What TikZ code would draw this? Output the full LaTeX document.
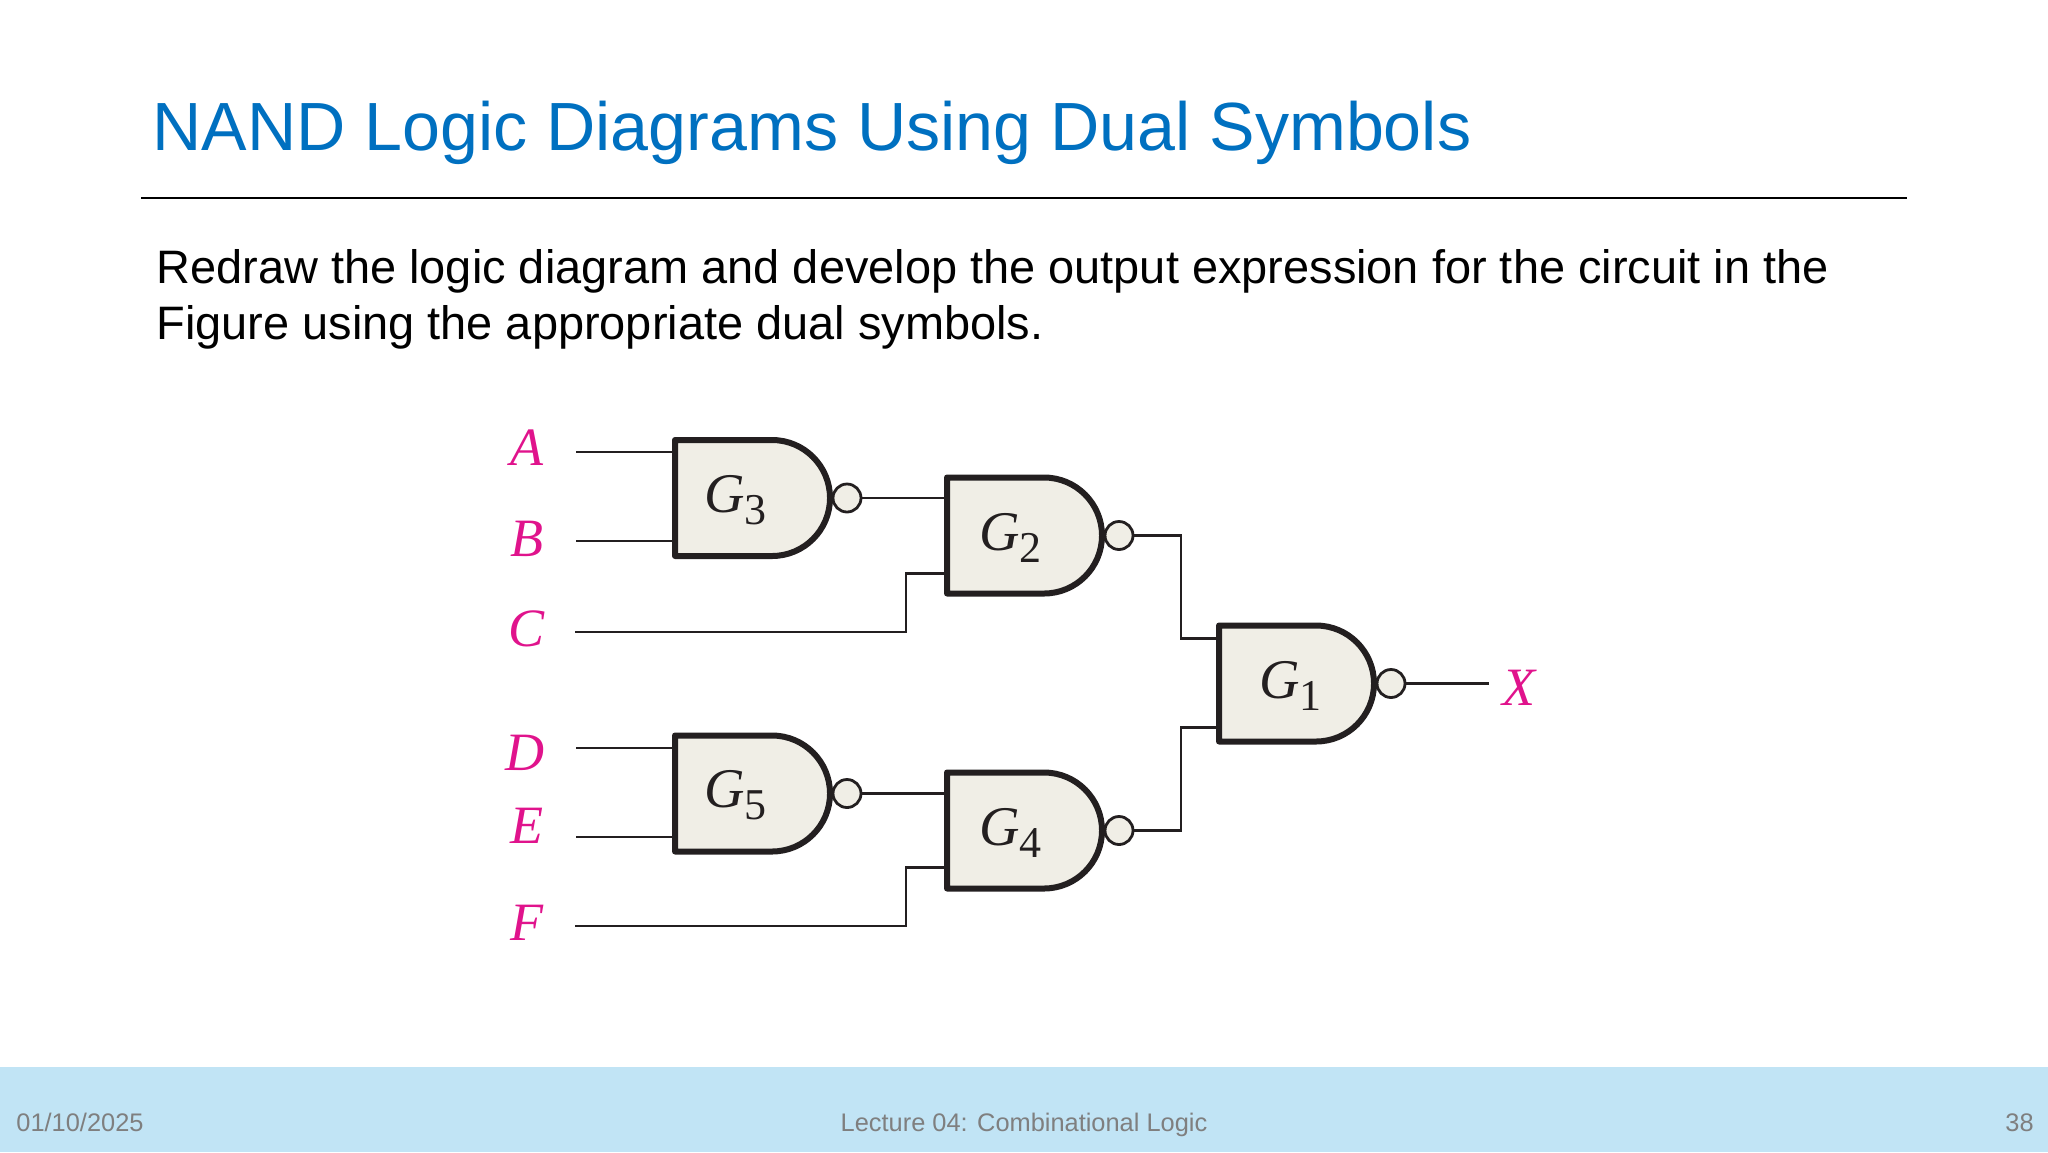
\documentclass[tikz,border=0pt]{standalone}
\usepackage{fontspec}
\setmainfont{Liberation Sans}
\newfontfamily\gateserif{Liberation Serif}
\usetikzlibrary{positioning}

\definecolor{titleblue}{HTML}{0070C0}
\definecolor{footband}{HTML}{C1E4F5}
\definecolor{footgray}{HTML}{7F7F7F}
\definecolor{inkpink}{HTML}{E0138C}
\definecolor{gatefill}{HTML}{F0EEE6}
\definecolor{gateink}{HTML}{231F20}

\tikzset{
    gatebox/.style={minimum width=77.5pt, minimum height=58pt, inner sep=0pt, outer sep=0pt},
    gateline/.style={draw=gateink, fill=gatefill, line width=3pt, line join=round},
    gatelabel/.style={inner sep=0pt, text=gateink, font=\gateserif\fontsize{28}{28}\selectfont},
    bubble/.style={circle, draw=gateink, fill=gatefill, line width=1.4pt, minimum size=14pt, inner sep=0pt},
    wire/.style={draw=gateink, line width=1.4pt},
    inlabel/.style={inner sep=0pt, text=inkpink, font=\gateserif\itshape\fontsize{27}{27}\selectfont},
    footer/.style={inner sep=0pt, text=footgray, font=\fontsize{12.7}{13}\selectfont}
}

\newcommand{\gatename}[1]{\textit{G}\raisebox{-6pt}{\fontsize{22}{22}\selectfont #1}}

\newcommand{\nandgate}[5]{
    \node[gatebox] (#1) at (#2,#3) {};
    \draw[gateline] (#1.north west) -- ++(97,0)
        arc[start angle=90, end angle=-90, radius=29pt] -- (#1.south west) -- cycle;
    \node[gatelabel] (#1name) at ([xshift=#5,yshift=-1pt]#1.center) {\gatename{#4}};
    \node[bubble] (#1out) at ([xshift=8.5pt]#1.east) {};
}

\begin{document}
\begin{tikzpicture}[x=0.5pt, y=-0.5pt]

        \useasboundingbox (0,0) rectangle (2048,1152);

        \fill[footband] (0,1067) rectangle (2048,1152);

        \node[anchor=base west, inner sep=0pt, text=titleblue, font=\fontsize{34.1}{34}\selectfont] (title) at (152,150)
        {NAND Logic Diagrams Using Dual Symbols};

        \coordinate (ruleL) at (141,198);
        \coordinate (ruleR) at (1907,198);
        \draw[line width=1pt, black] (ruleL) -- (ruleR);

        \node[anchor=base west, inner sep=0pt, font=\fontsize{23.47}{28}\selectfont] (lineone) at (156,283)
        {Redraw the logic diagram and develop the output expression for the circuit in the};
        \node[anchor=base west, inner sep=0pt, font=\fontsize{23.47}{28}\selectfont] (linetwo) at (156,339)
        {Figure using the appropriate dual symbols.};

        % #######################################

        \nandgate{G3}{752.5}{498}{3}{-8.5pt}
        \nandgate{G2}{1024.5}{535.5}{2}{-7pt}
        \nandgate{G1}{1296.5}{683.5}{1}{-3pt}
        \nandgate{G5}{752.5}{793.5}{5}{-8.5pt}
        \nandgate{G4}{1024.5}{830.5}{4}{-7pt}

        \node[inlabel] (A) at (527,448) {A};
        \node[inlabel] (B) at (527,539) {B};
        \node[inlabel] (C) at (526,629) {C};
        \node[inlabel] (D) at (525,753) {D};
        \node[inlabel] (E) at (527,826) {E};
        \node[inlabel] (F) at (527,923) {F};
        \node[inlabel] (X) at (1519,688) {X};

        % #######################################

        \coordinate (Astart) at (576,452);
        \coordinate (Bstart) at (576,541);
        \coordinate (Cstart) at (575,632);
        \coordinate (Dstart) at (576,748);
        \coordinate (Estart) at (576,837);
        \coordinate (Fstart) at (575,926);
        \coordinate (Xend) at (1489,683.5);

        \coordinate (G2low) at ([yshift=-19pt]G2.west);
        \coordinate (G4low) at ([yshift=-18.5pt]G4.west);
        \coordinate (G1up) at ([yshift=22.5pt]G1.west);
        \coordinate (G1low) at ([yshift=-22pt]G1.west);
        \coordinate (Cbend) at (906,632);
        \coordinate (Fbend) at (906,926);
        \coordinate (G2bend) at (1181,535.5);
        \coordinate (G4bend) at (1181,830.5);

        \draw[wire] (Astart) -- (Astart -| G3.west);
        \draw[wire] (Bstart) -- (Bstart -| G3.west);
        \draw[wire] (Cstart) -- (Cbend) |- (G2low);
        \draw[wire] (Dstart) -- (Dstart -| G5.west);
        \draw[wire] (Estart) -- (Estart -| G5.west);
        \draw[wire] (Fstart) -- (Fbend) |- (G4low);

        \draw[wire] (G3out.east) -- (G3out.east -| G2.west);
        \draw[wire] (G5out.east) -- (G5out.east -| G4.west);
        \draw[wire] (G2out.east) -- (G2bend) |- (G1up);
        \draw[wire] (G4out.east) -- (G4bend) |- (G1low);
        \draw[wire] (G1out.east) -- (Xend);

        % #######################################

        \node[footer, anchor=base west] (footdate) at (16,1131) {01/10/2025};
        \node[footer, anchor=base] (footname) at (1024,1131) {Lecture 04: Combinational Logic};
        \node[footer, anchor=base east] (footpage) at (2034,1131) {38};

    \end{tikzpicture}
\end{document}
